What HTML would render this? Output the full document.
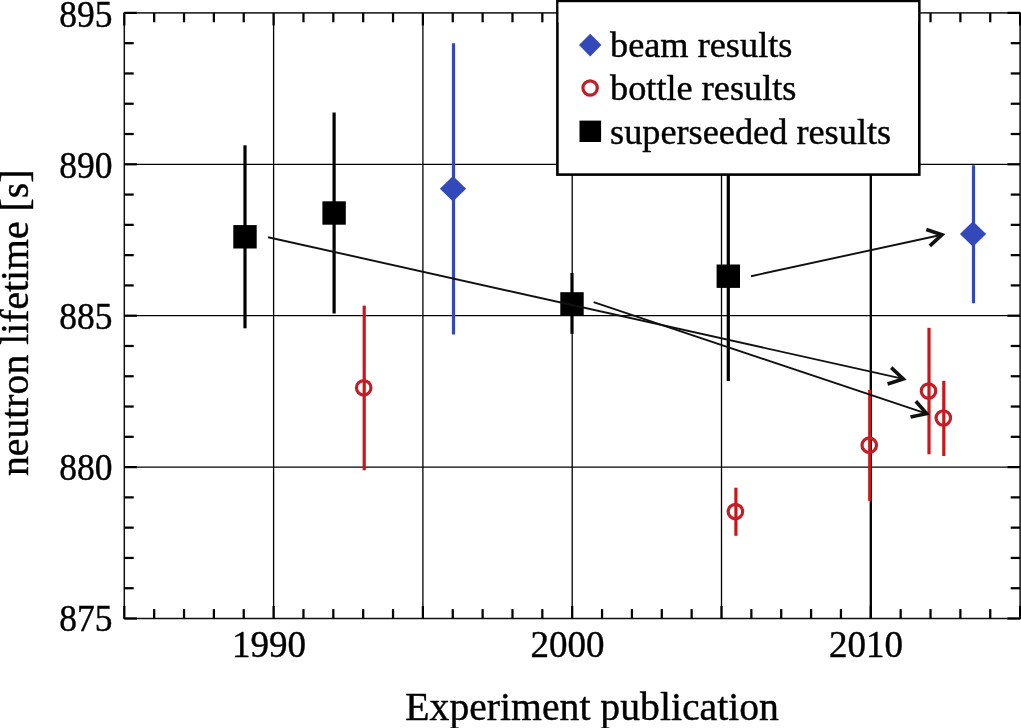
<!DOCTYPE html>
<html lang="en"><head><meta charset="utf-8"><title>Neutron lifetime measurements</title>
<style>html,body{margin:0;padding:0;background:#fff}body{width:1021px;height:728px;overflow:hidden}svg{display:block}text{font-family:"Liberation Serif","Times New Roman",Times,serif;fill:#000;stroke:#000;stroke-width:0.4px}</style></head><body>
<svg width="1021" height="728" viewBox="0 0 1021 728">
<rect width="1021" height="728" fill="#fff"/>
<g stroke="#000" stroke-width="1.3" fill="none">
<line x1="273.60" y1="12.9" x2="273.60" y2="618.5"/>
<line x1="422.90" y1="12.9" x2="422.90" y2="618.5"/>
<line x1="572.20" y1="12.9" x2="572.20" y2="618.5"/>
<line x1="721.50" y1="12.9" x2="721.50" y2="618.5"/>
<line x1="870.80" y1="12.9" x2="870.80" y2="618.5"/>
<line x1="124.3" y1="164.30" x2="1020.1" y2="164.30"/>
<line x1="124.3" y1="315.70" x2="1020.1" y2="315.70"/>
<line x1="124.3" y1="467.10" x2="1020.1" y2="467.10"/>
</g>
<line x1="870.8" y1="12.9" x2="870.8" y2="618.5" stroke="#000" stroke-width="2.3"/>
<line x1="245.00" y1="145.30" x2="245.00" y2="328.30" stroke="#000" stroke-width="3.2"/>
<rect x="233.30" y="225.10" width="23.4" height="23.4" fill="#000"/>
<line x1="334.10" y1="112.50" x2="334.10" y2="313.50" stroke="#000" stroke-width="3.2"/>
<rect x="322.40" y="201.30" width="23.4" height="23.4" fill="#000"/>
<line x1="572.00" y1="273.00" x2="572.00" y2="333.80" stroke="#000" stroke-width="3.2"/>
<rect x="560.30" y="292.20" width="23.4" height="23.4" fill="#000"/>
<line x1="728.30" y1="170.00" x2="728.30" y2="381.00" stroke="#000" stroke-width="3.2"/>
<rect x="716.60" y="264.50" width="23.4" height="23.4" fill="#000"/>
<line x1="364.20" y1="305.60" x2="364.20" y2="470.30" stroke="#cc1519" stroke-width="3.2"/>
<circle cx="363.70" cy="387.80" r="7.25" fill="none" stroke="#c01f28" stroke-width="3.2"/>
<line x1="735.90" y1="487.70" x2="735.90" y2="535.80" stroke="#cc1519" stroke-width="3.2"/>
<circle cx="735.40" cy="511.60" r="7.25" fill="none" stroke="#c01f28" stroke-width="3.2"/>
<line x1="869.75" y1="389.80" x2="869.75" y2="500.90" stroke="#cc1519" stroke-width="3.2"/>
<circle cx="869.25" cy="445.20" r="7.25" fill="none" stroke="#c01f28" stroke-width="3.2"/>
<line x1="929.00" y1="327.80" x2="929.00" y2="454.30" stroke="#cc1519" stroke-width="3.2"/>
<circle cx="928.50" cy="391.10" r="7.25" fill="none" stroke="#c01f28" stroke-width="3.2"/>
<line x1="943.80" y1="380.80" x2="943.80" y2="456.00" stroke="#cc1519" stroke-width="3.2"/>
<circle cx="943.30" cy="418.00" r="7.25" fill="none" stroke="#c01f28" stroke-width="3.2"/>
<line x1="453.50" y1="43.20" x2="453.50" y2="334.40" stroke="#3349ba" stroke-width="3.2"/>
<path d="M439.90 188.70L453.00 176.00L466.10 188.70L453.00 201.40Z" fill="#3349ba"/>
<line x1="973.50" y1="165.30" x2="973.50" y2="303.30" stroke="#3349ba" stroke-width="3.2"/>
<path d="M959.90 234.00L973.00 221.30L986.10 234.00L973.00 246.70Z" fill="#3349ba"/>
<line x1="268.10" y1="237.20" x2="903.28" y2="378.88" stroke="#111" stroke-width="1.9"/>
<path d="M887.58 383.96L903.28 378.88L891.23 367.61" fill="none" stroke="#111" stroke-width="3.6" stroke-linejoin="miter" stroke-miterlimit="10"/>
<line x1="593.60" y1="302.20" x2="926.67" y2="413.65" stroke="#111" stroke-width="1.9"/>
<path d="M910.53 417.08L926.67 413.65L915.85 401.20" fill="none" stroke="#111" stroke-width="3.6" stroke-linejoin="miter" stroke-miterlimit="10"/>
<line x1="751.00" y1="276.20" x2="941.98" y2="234.70" stroke="#111" stroke-width="1.9"/>
<path d="M929.86 245.90L941.98 234.70L926.30 229.54" fill="none" stroke="#111" stroke-width="3.6" stroke-linejoin="miter" stroke-miterlimit="10"/>
<rect x="557.4" y="1.2" width="361.9" height="173.4" fill="#fff" stroke="#000" stroke-width="2.6"/>
<path d="M579 45.05L590.2 33.7L601.4 45.05L590.2 56.4Z" fill="#3349ba"/>
<circle cx="590.1" cy="88.0" r="7.2" fill="#fff" stroke="#c01f28" stroke-width="3.2"/>
<rect x="579.5" y="120.6" width="21.6" height="21.4" fill="#000"/>
<g font-size="36.3px">
<text x="610" y="57.3">beam results</text>
<text x="610" y="100.4">bottle results</text>
<text x="610" y="143.5" textLength="281.2">superseeded results</text>
</g>
<rect x="124.3" y="12.9" width="895.80" height="605.60" fill="none" stroke="#111" stroke-width="1.5"/>
<rect x="558.6" y="2.4" width="359.5" height="20" fill="#fff"/>
<g stroke="#000" stroke-width="2.25" fill="none">
<line x1="124.30" y1="618.5" x2="124.30" y2="605.90"/>
<line x1="124.30" y1="12.9" x2="124.30" y2="25.50"/>
<line x1="154.16" y1="618.5" x2="154.16" y2="609.10"/>
<line x1="154.16" y1="12.9" x2="154.16" y2="22.30"/>
<line x1="184.02" y1="618.5" x2="184.02" y2="609.10"/>
<line x1="184.02" y1="12.9" x2="184.02" y2="22.30"/>
<line x1="213.88" y1="618.5" x2="213.88" y2="609.10"/>
<line x1="213.88" y1="12.9" x2="213.88" y2="22.30"/>
<line x1="243.74" y1="618.5" x2="243.74" y2="609.10"/>
<line x1="243.74" y1="12.9" x2="243.74" y2="22.30"/>
<line x1="273.60" y1="618.5" x2="273.60" y2="605.90"/>
<line x1="273.60" y1="12.9" x2="273.60" y2="25.50"/>
<line x1="303.46" y1="618.5" x2="303.46" y2="609.10"/>
<line x1="303.46" y1="12.9" x2="303.46" y2="22.30"/>
<line x1="333.32" y1="618.5" x2="333.32" y2="609.10"/>
<line x1="333.32" y1="12.9" x2="333.32" y2="22.30"/>
<line x1="363.18" y1="618.5" x2="363.18" y2="609.10"/>
<line x1="363.18" y1="12.9" x2="363.18" y2="22.30"/>
<line x1="393.04" y1="618.5" x2="393.04" y2="609.10"/>
<line x1="393.04" y1="12.9" x2="393.04" y2="22.30"/>
<line x1="422.90" y1="618.5" x2="422.90" y2="605.90"/>
<line x1="422.90" y1="12.9" x2="422.90" y2="25.50"/>
<line x1="452.76" y1="618.5" x2="452.76" y2="609.10"/>
<line x1="452.76" y1="12.9" x2="452.76" y2="22.30"/>
<line x1="482.62" y1="618.5" x2="482.62" y2="609.10"/>
<line x1="482.62" y1="12.9" x2="482.62" y2="22.30"/>
<line x1="512.48" y1="618.5" x2="512.48" y2="609.10"/>
<line x1="512.48" y1="12.9" x2="512.48" y2="22.30"/>
<line x1="542.34" y1="618.5" x2="542.34" y2="609.10"/>
<line x1="542.34" y1="12.9" x2="542.34" y2="22.30"/>
<line x1="572.20" y1="618.5" x2="572.20" y2="605.90"/>
<line x1="602.06" y1="618.5" x2="602.06" y2="609.10"/>
<line x1="631.92" y1="618.5" x2="631.92" y2="609.10"/>
<line x1="661.78" y1="618.5" x2="661.78" y2="609.10"/>
<line x1="691.64" y1="618.5" x2="691.64" y2="609.10"/>
<line x1="721.50" y1="618.5" x2="721.50" y2="605.90"/>
<line x1="751.36" y1="618.5" x2="751.36" y2="609.10"/>
<line x1="781.22" y1="618.5" x2="781.22" y2="609.10"/>
<line x1="811.08" y1="618.5" x2="811.08" y2="609.10"/>
<line x1="840.94" y1="618.5" x2="840.94" y2="609.10"/>
<line x1="870.80" y1="618.5" x2="870.80" y2="605.90"/>
<line x1="900.66" y1="618.5" x2="900.66" y2="609.10"/>
<line x1="930.52" y1="618.5" x2="930.52" y2="609.10"/>
<line x1="930.52" y1="12.9" x2="930.52" y2="22.30"/>
<line x1="960.38" y1="618.5" x2="960.38" y2="609.10"/>
<line x1="960.38" y1="12.9" x2="960.38" y2="22.30"/>
<line x1="990.24" y1="618.5" x2="990.24" y2="609.10"/>
<line x1="990.24" y1="12.9" x2="990.24" y2="22.30"/>
<line x1="1020.10" y1="618.5" x2="1020.10" y2="605.90"/>
<line x1="1020.10" y1="12.9" x2="1020.10" y2="25.50"/>
<line x1="124.3" y1="618.50" x2="136.90" y2="618.50"/>
<line x1="1020.1" y1="618.50" x2="1007.50" y2="618.50"/>
<line x1="124.3" y1="588.22" x2="133.70" y2="588.22"/>
<line x1="1020.1" y1="588.22" x2="1010.70" y2="588.22"/>
<line x1="124.3" y1="557.94" x2="133.70" y2="557.94"/>
<line x1="1020.1" y1="557.94" x2="1010.70" y2="557.94"/>
<line x1="124.3" y1="527.66" x2="133.70" y2="527.66"/>
<line x1="1020.1" y1="527.66" x2="1010.70" y2="527.66"/>
<line x1="124.3" y1="497.38" x2="133.70" y2="497.38"/>
<line x1="1020.1" y1="497.38" x2="1010.70" y2="497.38"/>
<line x1="124.3" y1="467.10" x2="136.90" y2="467.10"/>
<line x1="1020.1" y1="467.10" x2="1007.50" y2="467.10"/>
<line x1="124.3" y1="436.82" x2="133.70" y2="436.82"/>
<line x1="1020.1" y1="436.82" x2="1010.70" y2="436.82"/>
<line x1="124.3" y1="406.54" x2="133.70" y2="406.54"/>
<line x1="1020.1" y1="406.54" x2="1010.70" y2="406.54"/>
<line x1="124.3" y1="376.26" x2="133.70" y2="376.26"/>
<line x1="1020.1" y1="376.26" x2="1010.70" y2="376.26"/>
<line x1="124.3" y1="345.98" x2="133.70" y2="345.98"/>
<line x1="1020.1" y1="345.98" x2="1010.70" y2="345.98"/>
<line x1="124.3" y1="315.70" x2="136.90" y2="315.70"/>
<line x1="1020.1" y1="315.70" x2="1007.50" y2="315.70"/>
<line x1="124.3" y1="285.42" x2="133.70" y2="285.42"/>
<line x1="1020.1" y1="285.42" x2="1010.70" y2="285.42"/>
<line x1="124.3" y1="255.14" x2="133.70" y2="255.14"/>
<line x1="1020.1" y1="255.14" x2="1010.70" y2="255.14"/>
<line x1="124.3" y1="224.86" x2="133.70" y2="224.86"/>
<line x1="1020.1" y1="224.86" x2="1010.70" y2="224.86"/>
<line x1="124.3" y1="194.58" x2="133.70" y2="194.58"/>
<line x1="1020.1" y1="194.58" x2="1010.70" y2="194.58"/>
<line x1="124.3" y1="164.30" x2="136.90" y2="164.30"/>
<line x1="1020.1" y1="164.30" x2="1007.50" y2="164.30"/>
<line x1="124.3" y1="134.02" x2="133.70" y2="134.02"/>
<line x1="1020.1" y1="134.02" x2="1010.70" y2="134.02"/>
<line x1="124.3" y1="103.74" x2="133.70" y2="103.74"/>
<line x1="1020.1" y1="103.74" x2="1010.70" y2="103.74"/>
<line x1="124.3" y1="73.46" x2="133.70" y2="73.46"/>
<line x1="1020.1" y1="73.46" x2="1010.70" y2="73.46"/>
<line x1="124.3" y1="43.18" x2="133.70" y2="43.18"/>
<line x1="1020.1" y1="43.18" x2="1010.70" y2="43.18"/>
<line x1="124.3" y1="12.90" x2="136.90" y2="12.90"/>
<line x1="1020.1" y1="12.90" x2="1007.50" y2="12.90"/>
</g>
<g font-size="37px">
<text x="59.3" y="27.40" textLength="53.2" lengthAdjust="spacingAndGlyphs">895</text>
<text x="59.3" y="177.50" textLength="53.2" lengthAdjust="spacingAndGlyphs">890</text>
<text x="59.3" y="328.90" textLength="53.2" lengthAdjust="spacingAndGlyphs">885</text>
<text x="59.3" y="480.30" textLength="53.2" lengthAdjust="spacingAndGlyphs">880</text>
<text x="59.3" y="630.80" textLength="53.2" lengthAdjust="spacingAndGlyphs">875</text>
<text x="268.90" y="656.6" text-anchor="middle">1990</text>
<text x="567.50" y="656.6" text-anchor="middle">2000</text>
<text x="866.10" y="656.6" text-anchor="middle">2010</text>
</g>
<g font-size="39.7px">
<text x="405.3" y="719.6">Experiment publication</text>
<text transform="translate(27.8 476.0) rotate(-90)">neutron lifetime [s]</text>
</g>
</svg></body></html>
